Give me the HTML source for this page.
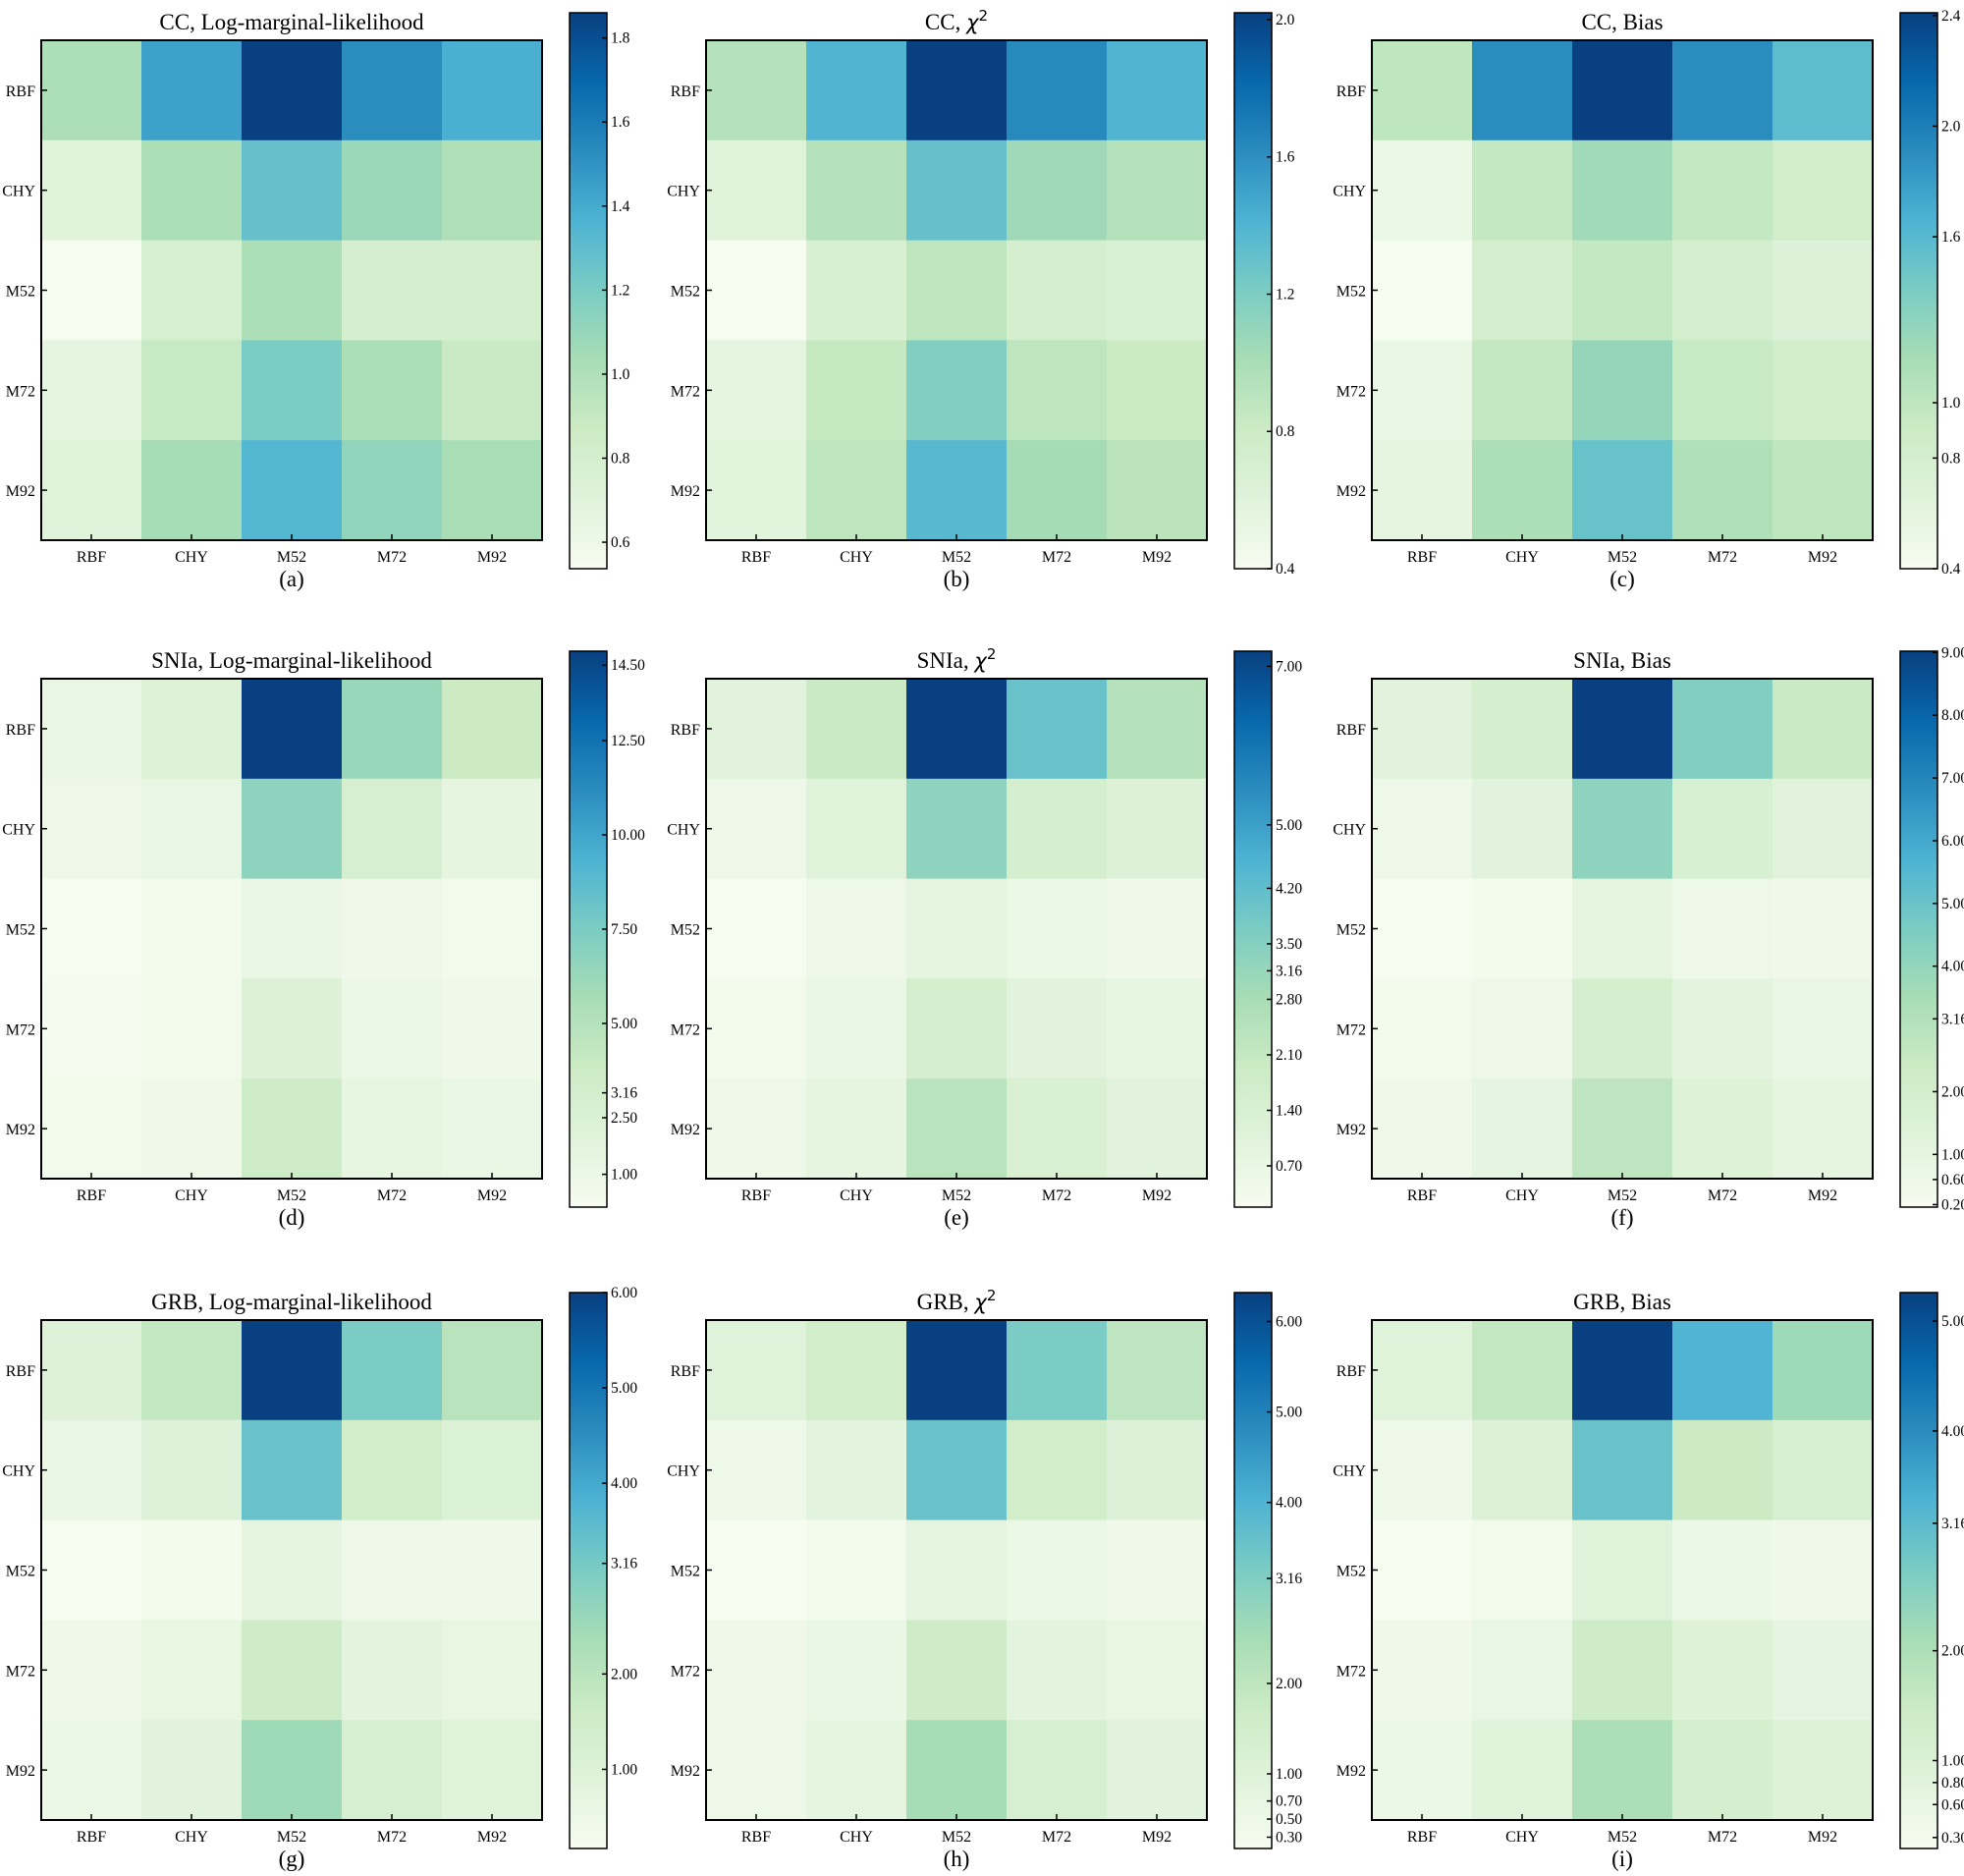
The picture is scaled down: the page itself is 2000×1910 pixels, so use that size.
<!DOCTYPE html>
<html><head><meta charset="utf-8"><style>
body{margin:0;background:#fff}
svg{display:block;font-family:"Liberation Serif",serif}
</style></head><body>
<svg id="fig" width="2000" height="1910" viewBox="0 0 2000 1910" xmlns="http://www.w3.org/2000/svg"></svg>
<script>
const categories=["RBF","CHY","M52","M72","M92"];
const panelTitles=["CC, Log-marginal-likelihood","CC, χ2","CC, Bias","SNIa, Log-marginal-likelihood","SNIa, χ2","SNIa, Bias","GRB, Log-marginal-likelihood","GRB, χ2","GRB, Bias"];
const panelLetters=["(a)","(b)","(c)","(d)","(e)","(f)","(g)","(h)","(i)"];
const valuesA=[[1.01,1.44,1.86,1.53,1.38],[0.70,1.01,1.28,1.08,1.00],[0.537,0.78,1.01,0.80,0.80],[0.66,0.89,1.20,1.01,0.88],[0.71,1.04,1.34,1.12,1.03]];
const valuesB=[[0.93,1.40,2.02,1.63,1.40],[0.61,0.93,1.31,1.05,0.93],[0.40,0.69,0.89,0.72,0.68],[0.56,0.84,1.18,0.89,0.81],[0.59,0.89,1.37,1.02,0.90]];
const valuesC=[[1.00,1.91,2.41,1.91,1.57],[0.52,0.96,1.20,0.96,0.84],[0.40,0.80,0.96,0.80,0.70],[0.54,0.96,1.26,0.94,0.84],[0.60,1.12,1.51,1.10,1.00]];
const valuesD=[[1.31,2.19,14.87,6.32,3.82],[0.87,1.31,6.76,2.78,1.60],[0.13,0.42,1.16,0.72,0.57],[0.28,0.57,2.34,1.01,0.72],[0.57,0.72,3.52,1.46,1.16]];
const valuesE=[[1.02,2.00,7.19,4.04,2.49],[0.53,1.09,3.33,1.58,1.23],[0.18,0.53,0.88,0.60,0.46],[0.39,0.67,1.58,1.02,0.81],[0.53,0.88,2.42,1.37,1.02]];
const valuesF=[[1.22,1.93,9.02,4.41,2.46],[0.60,1.22,4.15,1.75,1.22],[0.16,0.34,1.05,0.60,0.51],[0.43,0.60,1.93,1.13,0.87],[0.51,0.96,2.82,1.40,1.05]];
const valuesG=[[0.99,1.80,6.00,3.09,2.04],[0.58,0.99,3.38,1.45,1.10],[0.17,0.29,0.75,0.46,0.40],[0.40,0.64,1.57,0.81,0.64],[0.52,0.87,2.50,1.22,0.93]];
const valuesH=[[0.97,1.53,6.32,3.25,2.02],[0.48,0.85,3.55,1.53,1.10],[0.175,0.36,0.79,0.54,0.42],[0.42,0.61,1.65,0.85,0.67],[0.48,0.79,2.51,1.28,0.91]];
const valuesI=[[0.86,1.62,5.26,3.34,2.22],[0.45,0.96,2.98,1.47,1.11],[0.20,0.35,0.86,0.50,0.40],[0.40,0.60,1.41,0.91,0.66],[0.50,0.86,2.02,1.21,0.91]];
const vmins=[0.537,0.40,0.40,0.13,0.18,0.16,0.17,0.175,0.20];
const vmaxs=[1.86,2.02,2.41,14.87,7.19,9.02,6.00,6.32,5.26];
const ticksA=[0.6,0.8,1.0,1.2,1.4,1.6,1.8];
const ticksB=[0.4,0.8,1.2,1.6,2.0];
const ticksC=[0.4,0.8,1.0,1.6,2.0,2.4];
const ticksD=[1.00,2.50,3.16,5.00,7.50,10.00,12.50,14.50];
const ticksE=[0.70,1.40,2.10,2.80,3.16,3.50,4.20,5.00,7.00];
const ticksF=[0.20,0.60,1.00,2.00,3.16,4.00,5.00,6.00,7.00,8.00,9.00];
const ticksG=[1.00,2.00,3.16,4.00,5.00,6.00];
const ticksH=[0.30,0.50,0.70,1.00,2.00,3.16,4.00,5.00,6.00];
const ticksI=[0.30,0.60,0.80,1.00,2.00,3.16,4.00,5.00];
const tickDigits=[1,1,1,2,2,2,2,2,2];

const allValues=[valuesA,valuesB,valuesC,valuesD,valuesE,valuesF,valuesG,valuesH,valuesI];
const allTicks=[ticksA,ticksB,ticksC,ticksD,ticksE,ticksF,ticksG,ticksH,ticksI];
const cmap=["#f7fcf0","#e0f3db","#ccebc5","#a8ddb5","#7bccc4","#4eb3d3","#2b8cbe","#0868ac","#084081"];
function hex(c){return [1,3,5].map(i=>parseInt(c.substr(i,2),16));}
function color(t){t=Math.max(0,Math.min(1,t));const s=t*8,i=Math.min(7,Math.floor(s)),f=s-i;const a=hex(cmap[i]),b=hex(cmap[i+1]);return "rgb("+a.map((v,k)=>Math.round(v+(b[k]-v)*f)).join(",")+")";}
const NS="http://www.w3.org/2000/svg";
const svg=document.getElementById("fig");
function mk(tag,attrs,parent){const e=document.createElementNS(NS,tag);for(const k in attrs)e.setAttribute(k,attrs[k]);(parent||svg).appendChild(e);return e;}
const colL=[42,719,1397],rowT=[41,691,1344],cbT=[13,663,1316];
const W=510,H=509,CBW=38,CBH=566;
const defs=mk("defs",{});
const grad=mk("linearGradient",{id:"gnbu",x1:0,y1:1,x2:0,y2:0},defs);
cmap.forEach((c,i)=>mk("stop",{offset:i/8,"stop-color":c},grad));
for(let p=0;p<9;p++){
  const L=colL[p%3],T=rowT[Math.floor(p/3)],CT=cbT[Math.floor(p/3)];
  const vals=allValues[p],vmin=vmins[p],vmax=vmaxs[p];
  const g=mk("g",{});
  
  
  const cw=W/5,ch=H/5;
  const xs=i=>L+i*cw, ys=j=>T+j*ch;
  vals.forEach((row,j)=>row.forEach((v,i)=>{
    const r=mk("rect",{x:xs(i),y:ys(j),width:cw+0.6,height:ch+0.6,fill:color((v-vmin)/(vmax-vmin))},g);
    
    
  }));
  mk("rect",{x:L,y:T,width:W,height:H,fill:"none",stroke:"#000","stroke-width":2},g);
  categories.forEach((c,i)=>{
    const cx=xs(i)+cw/2, cy=ys(i)+ch/2;
    mk("line",{x1:cx,y1:T+H,x2:cx,y2:T+H-6,stroke:"#000","stroke-width":1.5},g);
    mk("line",{x1:L,y1:cy,x2:L+6,y2:cy,stroke:"#000","stroke-width":1.5},g);
    const xt=mk("text",{x:cx,y:T+H+22,"text-anchor":"middle","font-size":16},g);xt.textContent=c;
    
    
    const yt=mk("text",{x:L-6,y:cy+6,"text-anchor":"end","font-size":16},g);yt.textContent=c;
    
    
  });
  const title=mk("text",{x:L+W/2,y:T-11,"text-anchor":"middle","font-size":23},g);
  
  
  const pt=panelTitles[p];
  if(pt.indexOf("χ")>=0){
    const s1=mk("tspan",{},title);s1.textContent=pt.split("χ")[0];
    const s2=mk("tspan",{"font-style":"italic","font-family":"DejaVu Sans, sans-serif","font-size":21},title);s2.textContent="χ";
    const s3=mk("tspan",{dy:-9,"font-size":15,"font-family":"DejaVu Sans, sans-serif"},title);s3.textContent="2";
  } else title.textContent=pt;
  const lt=mk("text",{x:L+W/2,y:T+H+47,"text-anchor":"middle","font-size":23},g);lt.textContent=panelLetters[p];
  
  
  const CL=L+538;
  const cb=mk("rect",{x:CL,y:CT,width:CBW,height:CBH,fill:"url(#gnbu)",stroke:"#000","stroke-width":1.5},g);
  
  
  const cy=v=>CT+CBH-(v-vmin)/(vmax-vmin)*CBH;
  allTicks[p].forEach(v=>{
    const y=cy(v);
    mk("line",{x1:CL+CBW,y1:y,x2:CL+CBW-5,y2:y,stroke:"#000","stroke-width":1.5},g);
    const t=mk("text",{x:CL+CBW+4,y:y+5,"font-size":15.5},g);t.textContent=v.toFixed(tickDigits[p]);
    
    
  });
}
</script>
</body></html>
